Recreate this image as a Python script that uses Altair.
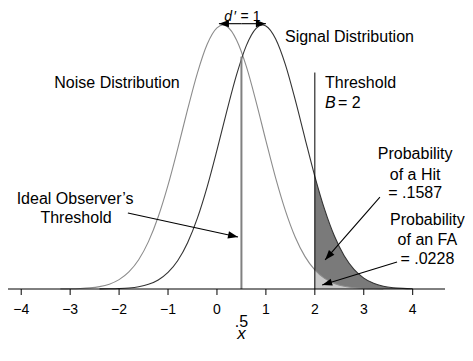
import math
import altair as alt
import pandas as pd

FONT = "Liberation Sans, Arial, Helvetica, sans-serif"

# ---- curve heights (relative to peak = 1) ----
noise_x = [-3.2, -3.0, -2.8, -2.6, -2.4, -2.2, -2.0, -1.8, -1.6, -1.4, -1.2, -1.0,
           -0.8, -0.6, -0.4, -0.2, 0.0, 0.12, 0.2, 0.4, 0.6, 0.8, 1.0, 1.2, 1.4, 1.6,
           1.8, 2.0, 2.2, 2.4, 2.6, 2.8, 3.0, 3.2, 3.4]
noise_h = [0.0003, 0.0007, 0.0018, 0.0041, 0.0089, 0.0183, 0.0354, 0.0645, 0.1108,
           0.1794, 0.2737, 0.3934, 0.5330, 0.6800, 0.8180, 0.9270, 0.9890, 1.0, 0.9950,
           0.9430, 0.8430, 0.7090, 0.5620, 0.4200, 0.2960, 0.1960, 0.1226, 0.0722,
           0.0401, 0.0209, 0.0103, 0.0048, 0.0021, 0.0009, 0.0003]

signal_x = [-2.4, -2.2, -2.0, -1.8, -1.6, -1.4, -1.2, -1.0, -0.8, -0.6, -0.4, -0.2,
            0.0, 0.2, 0.4, 0.6, 0.8, 0.93, 1.0, 1.2, 1.4, 1.6, 1.8, 2.0, 2.2, 2.4,
            2.6, 2.8, 3.0, 3.2, 3.4, 3.6, 3.8, 4.0]
signal_h = [0.0003, 0.0007, 0.0017, 0.0039, 0.0086, 0.0177, 0.0343, 0.0627, 0.1080,
            0.1754, 0.2684, 0.3870, 0.5260, 0.6730, 0.8110, 0.9220, 0.9875, 1.0, 0.9964,
            0.9470, 0.8490, 0.7160, 0.5700, 0.4270, 0.3014, 0.2005, 0.1257, 0.0743,
            0.0413, 0.0217, 0.0107, 0.0050, 0.0022, 0.0009]

tick_values = [-4, -3, -2, -1, 0, 1, 2, 3, 4]
tick_labels = ["\u22124", "\u22123", "\u22122", "\u22121", "0", "1", "2", "3", "4"]

# thresholds: x, top of line
thr_x = [0.5, 2.0]
thr_top = [0.88, 0.82]
thr_color = ["#808080", "#000000"]
thr_width = [2.0, 1.0]

# arrows: start -> tip
arr_x1 = [-1.82, 3.33, 3.68, 0.50, 0.50]
arr_y1 = [0.288, 0.348, 0.102, 1.005, 1.005]
arr_x2 = [0.43, 2.21, 2.15, 0.04, 1.00]
arr_y2 = [0.197, 0.110, 0.015, 1.005, 1.005]

# text labels (centered)
txt_c = ["Noise Distribution", "Ideal Observer\u2019s", "Threshold",
         "Probability", "of a Hit", "= .1587",
         "Probability", "of an FA", "= .0228", ".5"]
txt_c_x = [-2.043, -2.90, -2.88, 4.05, 4.05, 4.05, 4.30, 4.30, 4.30, 0.5]
txt_c_y = [0.761, 0.322, 0.250, 0.492, 0.413, 0.345, 0.242, 0.167, 0.095, -0.144]

# text labels (left aligned)
txt_l = ["Signal Distribution", "Threshold", "= 2"]
txt_l_x = [1.39, 2.207, 2.472]
txt_l_y = [0.936, 0.761, 0.686]

txt_d = ["\u2032 = 1"]
txt_d_x = [0.35]
txt_d_y = [1.016]

txt_i = ["B"]
txt_i_x = [2.207]
txt_i_y = [0.686]

txt_di = ["d"]
txt_di_x = [0.15]
txt_di_y = [1.016]

txt_xlab = ["x"]
txt_xlab_x = [0.5]
txt_xlab_y = [-0.190]

X_DOMAIN = [-4.27, 4.66]
Y_DOMAIN = [0, 1.0644]
W, H = 437, 281

sx = W / (X_DOMAIN[1] - X_DOMAIN[0])
sy = H / (Y_DOMAIN[1] - Y_DOMAIN[0])

noise = pd.DataFrame({"x": noise_x, "h": noise_h})
signal = pd.DataFrame({"x": signal_x, "h": signal_h})
thr = pd.DataFrame({"x": thr_x, "y": [0, 0], "y2": thr_top, "c": thr_color, "w": thr_width})
arrows = pd.DataFrame({"x": arr_x1, "y": arr_y1, "x2": arr_x2, "y2": arr_y2})
heads = pd.DataFrame({
    "x": arr_x2, "y": arr_y2,
    "a": [math.degrees(math.atan2((b - a) * sx, (d - c) * sy)) % 360
          for a, b, c, d in zip(arr_x1, arr_x2, arr_y1, arr_y2)],
})
ticks = pd.DataFrame({"x": tick_values, "y": [0.0] * len(tick_values), "t": tick_labels})
baseline = pd.DataFrame({"x": [X_DOMAIN[0]], "x2": [X_DOMAIN[1]], "y": [0.0]})
tc = pd.DataFrame({"x": txt_c_x, "y": txt_c_y, "t": txt_c})
tl = pd.DataFrame({"x": txt_l_x, "y": txt_l_y, "t": txt_l})
td = pd.DataFrame({"x": txt_d_x, "y": txt_d_y, "t": txt_d})
ti = pd.DataFrame({"x": txt_i_x, "y": txt_i_y, "t": txt_i})
tdi = pd.DataFrame({"x": txt_di_x, "y": txt_di_y, "t": txt_di})
tx = pd.DataFrame({"x": txt_xlab_x, "y": txt_xlab_y, "t": txt_xlab})

# explicit ranges so every layer maps identically
xs = alt.Scale(domain=X_DOMAIN, range=[0, W], nice=False, zero=False)
ys = alt.Scale(domain=Y_DOMAIN, range=[H, 0], nice=False, zero=False)
X = alt.X("x:Q", scale=xs, axis=None)


def Y(f):
    return alt.Y(f, scale=ys, axis=None)


def text_layer(df, size, align, italic=False, dy=0):
    kw = dict(font=FONT, fontSize=size, align=align, baseline="alphabetic", color="black")
    if italic:
        kw["fontStyle"] = "italic"
    if dy:
        kw["dy"] = dy
    return alt.Chart(df).mark_text(**kw).encode(x=X, y=Y("y:Q"), text="t:N")


dark = alt.Chart(signal).transform_filter("datum.x >= 2").mark_area(
    color="#7a7a7a", interpolate="monotone").encode(x=X, y=Y("h:Q"))
light = alt.Chart(noise).transform_filter("datum.x >= 2").mark_area(
    color="#c8c8c8", interpolate="monotone").encode(x=X, y=Y("h:Q"))
nline = alt.Chart(noise).mark_line(color="#8c8c8c", strokeWidth=1.1,
                                   interpolate="monotone").encode(x=X, y=Y("h:Q"))
sline = alt.Chart(signal).mark_line(color="#333333", strokeWidth=1.1,
                                    interpolate="monotone").encode(x=X, y=Y("h:Q"))
rules = alt.Chart(thr).mark_rule().encode(
    x=X, y=Y("y:Q"), y2="y2:Q",
    color=alt.Color("c:N", scale=None), strokeWidth=alt.StrokeWidth("w:Q", scale=None))
arr = alt.Chart(arrows).mark_rule(color="black", strokeWidth=1.1).encode(
    x=X, y=Y("y:Q"), x2="x2:Q", y2="y2:Q")
hd = alt.Chart(heads).mark_point(shape="M0,0L-0.36,1L0.36,1Z", filled=True, opacity=1,
                                 color="black", size=400, strokeWidth=0).encode(
    x=X, y=Y("y:Q"), angle=alt.Angle("a:Q", scale=None))

# x axis drawn through the same scales
axis_line = alt.Chart(baseline).mark_rule(color="black", strokeWidth=1).encode(
    x=X, x2="x2:Q", y=Y("y:Q"))
axis_ticks = alt.Chart(ticks).mark_rule(color="black", strokeWidth=1, y2Offset=6).encode(
    x=X, y=Y("y:Q"), y2="y:Q")
axis_labels = text_layer(ticks, 14, "center", dy=25)

chart = alt.layer(
    dark, light, nline, sline, rules, arr, hd,
    axis_line, axis_ticks, axis_labels,
    text_layer(tc, 16, "center"),
    text_layer(tl, 16, "left"),
    text_layer(ti, 16, "left", italic=True),
    text_layer(td, 14, "left"),
    text_layer(tdi, 14, "left", italic=True),
    text_layer(tx, 17, "center", italic=True),
).properties(
    width=W, height=H,
    autosize=alt.AutoSizeParams(type="none"),
    padding={"left": 0, "top": 0, "right": 20, "bottom": 52},
    background="white",
).configure_view(stroke=None)

chart.save("out.html", embed_options={"renderer": "svg", "actions": False})
